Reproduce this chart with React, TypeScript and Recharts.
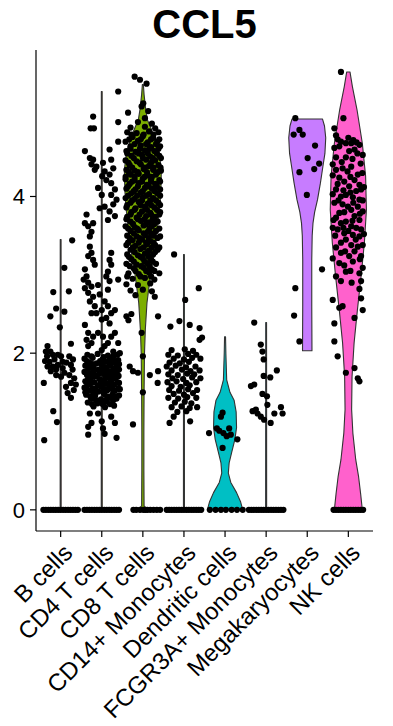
import React from 'react';
import { ComposedChart, Scatter, XAxis, YAxis } from 'recharts';

const cellTypes = [
  'B cells',
  'CD4 T cells',
  'CD8 T cells',
  'CD14+ Monocytes',
  'Dendritic cells',
  'FCGR3A+ Monocytes',
  'Megakaryocytes',
  'NK cells',
];
const violinColors = ['#F8766D', '#CD9600', '#7CAE00', '#00BE67', '#00BFC4', '#00A9FF', '#C77CFF', '#FF61CC'];
const yTicks = [0, 2, 4];

// violin outlines: expression level -> half width (in category units)
const bLevels = [0, 0.03, 3.45];
const bHalf = [0.3, 0.012, 0.01];
const cd4Levels = [0, 0.03, 5.34];
const cd4Half = [0.3, 0.012, 0.01];
const cd8Levels = [0, 0.05, 0.5, 1.0, 1.5, 2.0, 2.3, 2.64, 2.85, 3.07, 3.25, 3.49, 3.7, 3.92, 4.1, 4.34, 4.55, 4.77, 4.98, 5.11, 5.3, 5.43];
const cd8Half = [0.12, 0.03, 0.025, 0.025, 0.03, 0.04, 0.06, 0.1, 0.15, 0.21, 0.27, 0.33, 0.38, 0.42, 0.44, 0.45, 0.4, 0.28, 0.11, 0.07, 0.03, 0.012];
const cd14Levels = [0, 0.03, 3.26];
const cd14Half = [0.3, 0.012, 0.01];
const dcLevels = [0, 0.1, 0.22, 0.35, 0.47, 0.6, 0.73, 0.9, 1.05, 1.25, 1.4, 1.5, 1.66, 2.0, 2.21];
const dcHalf = [0.43, 0.38, 0.28, 0.14, 0.08, 0.1, 0.16, 0.24, 0.28, 0.27, 0.22, 0.12, 0.04, 0.02, 0.012];
const fcgLevels = [0, 0.03, 2.39];
const fcgHalf = [0.3, 0.012, 0.01];
const megaLevels = [2.03, 2.6, 3.2, 3.5, 3.66, 3.8, 3.96, 4.17, 4.38, 4.55, 4.75, 4.9, 4.99];
const megaHalf = [0.115, 0.11, 0.11, 0.12, 0.14, 0.18, 0.25, 0.32, 0.38, 0.43, 0.45, 0.42, 0.37];
const nkLevels = [0, 0.2, 0.42, 0.64, 0.98, 1.28, 1.7, 2.13, 2.55, 2.98, 3.41, 3.83, 4.26, 4.68, 5.11, 5.4, 5.59];
const nkHalf = [0.34, 0.3, 0.25, 0.18, 0.11, 0.08, 0.09, 0.14, 0.22, 0.31, 0.39, 0.44, 0.42, 0.34, 0.21, 0.1, 0.04];

// cells with zero expression: jitter offsets only
const bZeros = [-0.42, -0.36, -0.3, -0.24, -0.18, -0.12, -0.06, 0, 0.06, 0.12, 0.18, 0.24, 0.3, 0.36, 0.42];
const cd4Zeros = [-0.42, -0.36, -0.3, -0.24, -0.18, -0.12, -0.06, 0, 0.06, 0.12, 0.18, 0.24, 0.3, 0.36, 0.42];
const cd8Zeros = [-0.23, -0.16, -0.07, 0.01, 0.06, 0.11, 0.18, 0.26, 0.34, 0.42];
const cd14Zeros = [-0.42, -0.36, -0.3, -0.24, -0.18, -0.12, -0.06, 0, 0.06, 0.12, 0.18, 0.24, 0.3, 0.36, 0.42];
const dcZeros = [-0.37, -0.23, -0.1, 0.02, 0.16, 0.29, 0.43];
const fcgZeros = [-0.42, -0.36, -0.3, -0.24, -0.18, -0.12, -0.06, 0, 0.06, 0.12, 0.18, 0.24, 0.3, 0.36, 0.42];
const megaZeros: number[] = [];
const nkZeros = [-0.36, -0.3, -0.24, -0.18, -0.12, -0.06, 0, 0.06, 0.12, 0.18, 0.24, 0.3, 0.36];

// expressing cells: [jitter offset, expression]
const bPoints = [
  [0.28, 3.44], [0.09, 3.09], [-0.18, 2.78], [0.2, 2.79], [-0.11, 2.57], [-0.25, 2.47], [0.09, 2.53], [-0.02, 2.33], [0.25, 2.12],
  [-0.32, 2.09], [-0.36, 2.02], [-0.25, 2.02], [-0.33, 1.96], [-0.19, 1.98], [-0.07, 1.98], [-0.27, 1.89], [-0.15, 1.92], [0.01, 1.96],
  [0.05, 1.89], [-0.32, 1.83], [-0.19, 1.83], [-0.07, 1.85], [-0.11, 1.79], [0.05, 1.81], [0.21, 1.96], [0.25, 1.85], [0.29, 1.79],
  [0.09, 1.75], [0.21, 1.72], [0.33, 1.68], [0.25, 1.62], [0.37, 1.6], [0.13, 1.57], [0.32, 1.53], [0.17, 1.49], [0.25, 1.43],
  [0.01, 1.7], [-0.11, 1.72], [-0.24, 1.77], [0.14, 1.88], [-0.38, 1.9], [0.3, 1.92],
  [-0.41, 1.62], [-0.18, 1.26], [-0.09, 1.12], [-0.4, 0.89],
];
const cd4Points = [
  [0.4, 5.34], [-0.21, 5.02], [-0.27, 4.87], [-0.19, 4.87], [0.4, 4.95], [0.4, 4.7], [0.19, 4.6], [-0.41, 4.58],
  [-0.29, 4.49], [-0.21, 4.47], [-0.25, 4.41], [-0.13, 4.38], [-0.17, 4.34], [0.03, 4.43], [0.07, 4.32], [0.01, 4.26], [0.11, 4.21],
  [0.23, 4.47], [0.28, 4.36], [0.19, 4.28], [0.23, 4.17], [0.32, 4.09], [0.23, 4.02], [0.36, 3.96], [0.28, 3.9],
  [-0.09, 4.11], [0, 4.02], [0.07, 3.87], [-0.05, 3.85], [0.19, 3.81], [0.32, 3.75], [0.15, 3.7],
  [-0.37, 3.77], [-0.41, 3.66], [-0.33, 3.62], [-0.21, 3.66], [-0.25, 3.55], [-0.29, 3.49],
  [-0.29, 3.36], [-0.25, 3.28], [-0.33, 3.24], [-0.21, 3.19], [-0.17, 3.13],
  [0.23, 3.28], [0.19, 3.19], [0.23, 3.13], [0.15, 3.04], [0.11, 2.98],
  [-0.41, 3.07], [-0.37, 2.98], [-0.44, 2.94], [-0.33, 2.9], [-0.41, 2.83], [-0.25, 2.85], [-0.33, 2.77], [-0.21, 2.72], [-0.29, 2.66],
  [0.19, 2.92], [0.4, 2.94], [0.15, 2.81], [-0.09, 2.87], [-0.05, 2.75],
  [-0.17, 2.6], [-0.25, 2.51], [-0.13, 2.51], [0, 2.55], [0.07, 2.66], [0.15, 2.6], [0.23, 2.51], [0.32, 2.55], [0.11, 2.45], [0, 2.43], [0.19, 2.38],
  [-0.41, 2.36], [-0.33, 2.26], [-0.37, 2.17], [-0.25, 2.13], [-0.33, 2.09], [-0.21, 2.21],
  [-0.09, 2.26], [0.03, 2.21], [0.23, 2.21], [0.32, 2.26], [0.15, 2.13], [0.4, 2.13], [0.07, 2.09], [0, 2.04], [0.28, 2.02], [0.44, 2.0],
  [-0.35, 1.98], [-0.1, 1.99], [0.15, 1.97], [0.38, 1.98],
  [-0.42, 1.93], [-0.22, 1.94], [0.02, 1.92], [0.25, 1.93], [0.4, 1.91],
  [-0.3, 1.88], [-0.12, 1.87], [0.08, 1.89], [0.3, 1.88],
  [-0.4, 1.84], [-0.2, 1.83], [0, 1.85], [0.18, 1.84], [0.36, 1.83],
  [-0.33, 1.8], [-0.08, 1.79], [0.12, 1.81], [0.28, 1.8], [0.42, 1.79],
  [-0.42, 1.76], [-0.24, 1.75], [-0.02, 1.77], [0.2, 1.76], [0.34, 1.75],
  [-0.36, 1.72], [-0.14, 1.71], [0.06, 1.73], [0.26, 1.72], [0.41, 1.71],
  [-0.28, 1.68], [-0.06, 1.67], [0.14, 1.69], [0.32, 1.68],
  [-0.4, 1.64], [-0.18, 1.63], [0.04, 1.65], [0.22, 1.64], [0.38, 1.63],
  [-0.32, 1.6], [-0.1, 1.59], [0.1, 1.61], [0.3, 1.6],
  [-0.42, 1.56], [-0.22, 1.55], [0, 1.57], [0.18, 1.56], [0.4, 1.55],
  [-0.3, 1.52], [-0.08, 1.51], [0.14, 1.53], [0.32, 1.52],
  [-0.38, 1.47], [-0.16, 1.46], [0.06, 1.48], [0.26, 1.47], [0.42, 1.46],
  [-0.26, 1.42], [-0.02, 1.41], [0.2, 1.43], [0.36, 1.42],
  [-0.34, 1.37], [-0.1, 1.36], [0.12, 1.38],
  [-0.2, 1.32], [0.08, 1.31], [0.3, 1.33],
  [-0.25, 1.96], [0.05, 1.95], [0.28, 1.96],
  [-0.36, 1.9], [-0.04, 1.9], [0.18, 1.91], [0.34, 1.9],
  [-0.22, 1.86], [0.22, 1.86], [0.42, 1.86],
  [-0.28, 1.82], [0.08, 1.82],
  [-0.18, 1.78], [0.04, 1.78], [0.38, 1.78],
  [-0.3, 1.74], [-0.06, 1.74], [0.14, 1.74], [0.3, 1.74],
  [-0.22, 1.7], [0.2, 1.7], [0.36, 1.7],
  [-0.34, 1.66], [0.06, 1.66], [0.24, 1.66],
  [-0.26, 1.62], [-0.02, 1.62], [0.18, 1.62], [0.42, 1.62],
  [-0.36, 1.58], [-0.04, 1.58], [0.22, 1.58],
  [-0.16, 1.54], [0.08, 1.54], [0.26, 1.54], [0.44, 1.54],
  [-0.4, 1.5], [-0.2, 1.5], [0.04, 1.5],
  [-0.28, 1.45], [0.14, 1.45], [0.34, 1.45],
  [-0.14, 1.4], [0.08, 1.4], [0.28, 1.4],
  [-0.24, 1.35], [0.02, 1.35], [0.2, 1.35],
  [-0.29, 1.23], [-0.09, 1.23], [0.23, 1.19], [0, 1.13], [0.32, 1.11], [-0.33, 1.06], [0.03, 1.04], [-0.25, 1.11], [-0.33, 0.96], [0.07, 0.97], [0.36, 0.92],
];
const cd8Points = [
  [-0.2, 5.53], [-0.07, 5.49], [0.09, 5.44], [0.01, 5.19], [-0.03, 5.15], [0.13, 5.09], [-0.36, 5.07], [0.05, 5.0], [-0.12, 4.95], [0.22, 4.93],
  [-0.3, 4.88], [0.05, 4.89], [0.3, 4.87],
  [-0.38, 4.82], [-0.15, 4.81], [0.15, 4.83], [0.38, 4.82],
  [-0.25, 4.76], [0.0, 4.77], [0.25, 4.75],
  [-0.42, 4.7], [-0.12, 4.71], [0.12, 4.69], [0.35, 4.7],
  [-0.3, 4.64], [-0.05, 4.65], [0.2, 4.63], [0.42, 4.64],
  [-0.4, 4.58], [-0.18, 4.57], [0.05, 4.59], [0.28, 4.58],
  [-0.28, 4.52], [-0.02, 4.53], [0.18, 4.51], [0.4, 4.52],
  [-0.42, 4.46], [-0.15, 4.45], [0.08, 4.47], [0.3, 4.46],
  [-0.32, 4.4], [-0.05, 4.41], [0.15, 4.39], [0.38, 4.4],
  [-0.4, 4.34], [-0.2, 4.33], [0.02, 4.35], [0.25, 4.34], [0.44, 4.33],
  [-0.3, 4.28], [-0.1, 4.29], [0.12, 4.27], [0.32, 4.28],
  [-0.42, 4.22], [-0.2, 4.21], [0.0, 4.23], [0.2, 4.22], [0.4, 4.21],
  [-0.32, 4.16], [-0.1, 4.17], [0.1, 4.15], [0.3, 4.16],
  [-0.4, 4.1], [-0.18, 4.09], [0.05, 4.11], [0.22, 4.1], [0.42, 4.09],
  [-0.28, 4.04], [-0.05, 4.05], [0.15, 4.03], [0.35, 4.04],
  [-0.42, 3.98], [-0.2, 3.97], [0.0, 3.99], [0.25, 3.98],
  [-0.3, 3.92], [-0.1, 3.93], [0.12, 3.91], [0.38, 3.92],
  [-0.4, 3.86], [-0.18, 3.85], [0.05, 3.87], [0.28, 3.86],
  [-0.28, 3.8], [-0.02, 3.81], [0.18, 3.79], [0.42, 3.8],
  [-0.38, 3.74], [-0.15, 3.73], [0.08, 3.75], [0.3, 3.74],
  [-0.3, 3.68], [-0.05, 3.69], [0.15, 3.67], [0.36, 3.68],
  [-0.42, 3.62], [-0.2, 3.61], [0.02, 3.63], [0.22, 3.62],
  [-0.3, 3.56], [-0.1, 3.57], [0.12, 3.55], [0.32, 3.56],
  [-0.38, 3.5], [-0.15, 3.49], [0.05, 3.51], [0.26, 3.5], [0.42, 3.49],
  [-0.25, 3.44], [-0.02, 3.45], [0.18, 3.43],
  [-0.4, 3.38], [-0.18, 3.37], [0.1, 3.39], [0.3, 3.38],
  [-0.3, 3.32], [-0.06, 3.33], [0.15, 3.31], [0.36, 3.32],
  [-0.38, 3.26], [-0.12, 3.25], [0.05, 3.27], [0.25, 3.26],
  [-0.28, 3.2], [0.0, 3.21], [0.2, 3.19],
  [-0.4, 3.14], [-0.15, 3.13], [0.1, 3.15], [0.32, 3.14],
  [-0.22, 3.08], [0.02, 3.09], [0.22, 3.07],
  [-0.35, 3.02], [-0.1, 3.01], [0.15, 3.03], [0.4, 3.02],
  [-0.25, 2.95], [0.05, 2.96], [0.28, 2.94],
  [-0.4, 2.88], [-0.12, 2.87], [0.18, 2.89],
  [-0.3, 2.8], [0.0, 2.81], [0.22, 2.79],
  [-0.18, 2.74], [0.29, 2.72],
  [-0.28, 4.79], [0.02, 4.79], [0.26, 4.79],
  [-0.33, 4.73], [-0.05, 4.73], [0.2, 4.73], [0.4, 4.73],
  [-0.2, 4.67], [0.08, 4.67], [0.32, 4.67],
  [-0.3, 4.61], [-0.07, 4.61], [0.16, 4.61], [0.38, 4.61],
  [-0.38, 4.55], [-0.1, 4.55], [0.12, 4.55], [0.34, 4.55],
  [-0.22, 4.49], [0.0, 4.49], [0.24, 4.49], [0.44, 4.49],
  [-0.35, 4.43], [-0.08, 4.43], [0.2, 4.43],
  [-0.26, 4.37], [0.05, 4.37], [0.26, 4.37], [0.43, 4.37],
  [-0.34, 4.31], [-0.12, 4.31], [0.1, 4.31], [0.36, 4.31],
  [-0.42, 4.25], [-0.2, 4.25], [0.04, 4.25], [0.22, 4.25],
  [-0.26, 4.19], [-0.02, 4.19], [0.2, 4.19], [0.42, 4.19],
  [-0.36, 4.13], [-0.12, 4.13], [0.14, 4.13], [0.34, 4.13],
  [-0.22, 4.07], [0.0, 4.07], [0.28, 4.07],
  [-0.36, 4.01], [-0.14, 4.01], [0.08, 4.01], [0.42, 4.01],
  [-0.26, 3.95], [-0.02, 3.95], [0.18, 3.95], [0.32, 3.95],
  [-0.38, 3.89], [-0.06, 3.89], [0.2, 3.89], [0.42, 3.89],
  [-0.2, 3.83], [0.1, 3.83], [0.34, 3.83],
  [-0.3, 3.77], [-0.08, 3.77], [0.2, 3.77], [0.4, 3.77],
  [-0.4, 3.71], [-0.12, 3.71], [0.04, 3.71], [0.24, 3.71],
  [-0.24, 3.65], [0.08, 3.65], [0.28, 3.65],
  [-0.36, 3.59], [-0.14, 3.59], [0.16, 3.59], [0.4, 3.59],
  [-0.22, 3.53], [0.02, 3.53], [0.2, 3.53],
  [-0.32, 3.47], [-0.08, 3.47], [0.14, 3.47], [0.36, 3.47],
  [-0.36, 3.41], [-0.1, 3.41], [0.08, 3.41], [0.26, 3.41],
  [-0.24, 3.35], [0.02, 3.35], [0.22, 3.35], [0.4, 3.35],
  [-0.2, 3.29], [0.12, 3.29], [0.3, 3.29],
  [-0.34, 3.23], [-0.06, 3.23], [0.14, 3.23],
  [-0.22, 3.17], [0.04, 3.17], [0.24, 3.17],
  [-0.32, 3.11], [-0.04, 3.11], [0.16, 3.11],
  [-0.18, 3.05], [0.08, 3.05], [0.28, 3.05],
  [-0.38, 2.98], [-0.06, 2.98], [0.2, 2.98],
  [0.37, 2.47], [-0.4, 2.47], [-0.35, 2.42], [-0.28, 2.5], [-0.03, 2.26], [0, 1.96], [-0.32, 1.83], [-0.24, 1.77],
  [-0.12, 1.75], [0.17, 1.72], [0.37, 1.77], [0.36, 1.62], [0, 1.5], [-0.24, 1.09],
];
const cd14Points = [
  [-0.24, 3.26], [0.36, 2.83], [0.03, 2.68], [-0.11, 2.41], [0.14, 2.36], [-0.33, 2.34], [0.38, 2.32], [0.38, 2.17], [0.44, 2.2],
  [-0.3, 2.04], [0.02, 2.05], [0.22, 2.03],
  [-0.38, 1.98], [-0.15, 1.97], [0.1, 1.99], [0.3, 1.98],
  [-0.25, 1.93], [0.0, 1.92], [0.2, 1.94], [0.4, 1.93],
  [-0.35, 1.88], [-0.1, 1.87], [0.12, 1.89],
  [-0.42, 1.83], [-0.2, 1.84], [0.05, 1.82], [0.28, 1.83],
  [-0.3, 1.78], [-0.05, 1.79], [0.16, 1.77], [0.38, 1.78],
  [-0.38, 1.73], [-0.15, 1.72], [0.08, 1.74], [0.25, 1.73],
  [-0.28, 1.68], [-0.02, 1.67], [0.2, 1.69], [0.4, 1.68],
  [-0.4, 1.63], [-0.18, 1.64], [0.06, 1.62], [0.3, 1.63],
  [-0.3, 1.58], [-0.08, 1.57], [0.14, 1.59],
  [-0.36, 1.53], [-0.12, 1.52], [0.1, 1.54], [0.32, 1.53],
  [-0.25, 1.48], [0.0, 1.47], [0.22, 1.49],
  [-0.38, 1.43], [-0.14, 1.42], [0.08, 1.44], [0.3, 1.43],
  [-0.22, 1.37], [0.02, 1.38], [0.18, 1.36],
  [-0.3, 1.31], [-0.06, 1.32], [0.14, 1.3], [0.32, 1.31],
  [-0.16, 1.25], [0.06, 1.26],
  [-0.35, 1.11], [0.15, 1.13], [-0.25, 1.19],
];
const dcPoints = [
  [-0.06, 1.24], [-0.1, 1.19], [-0.2, 1.04], [-0.39, 0.98], [-0.14, 1.01], [-0.04, 0.98], [0.1, 1.04], [0.04, 0.94], [0.14, 0.96], [0.3, 0.9], [-0.06, 0.79],
];
const fcgPoints = [
  [-0.29, 2.39], [-0.13, 2.11], [-0.09, 2.02], [-0.06, 1.92], [0.26, 1.78], [-0.06, 1.71], [0.1, 1.69], [-0.37, 1.58], [-0.29, 1.6],
  [-0.09, 1.48], [0.02, 1.45], [0.03, 1.34], [-0.25, 1.28], [-0.21, 1.23], [-0.13, 1.19], [-0.05, 1.15], [0.11, 1.11], [0.36, 1.31],
  [0.4, 1.23], [0.2, 1.23], [-0.33, 1.26],
];
const megaPoints = [
  [-0.29, 5.0], [-0.33, 4.79], [-0.19, 4.85], [-0.11, 4.79], [0.19, 4.65], [0.01, 4.49], [0.29, 4.42], [0.17, 4.35], [-0.19, 4.31],
  [-0.01, 4.02], [0.36, 3.07], [-0.29, 2.83], [-0.32, 2.48], [-0.19, 2.15],
];
const nkPoints = [
  [-0.18, 5.59], [-0.12, 5.0], [-0.34, 4.87],
  [-0.26, 4.73], [-0.18, 4.7], [-0.06, 4.68], [0.07, 4.68], [0.2, 4.69], [0.27, 4.66], [-0.34, 4.62], [0.15, 4.6], [0.35, 4.53], [-0.06, 4.5],
  [-0.38, 4.41], [-0.3, 4.34], [-0.14, 4.36], [0.07, 4.38], [0.23, 4.28], [-0.22, 4.24], [-0.1, 4.19], [0.15, 4.21], [0.27, 4.15],
  [-0.3, 4.09], [0.02, 4.13], [0.19, 4.07], [0.31, 4.09], [-0.06, 4.02], [-0.18, 4.0], [0.11, 3.99], [0.27, 3.96], [-0.34, 3.92],
  [-0.14, 3.9], [-0.01, 3.87], [0.23, 3.87], [0.07, 3.83], [0.35, 3.81], [-0.22, 3.79], [0.15, 3.75], [-0.3, 3.73], [-0.06, 3.68],
  [0.27, 3.7], [-0.18, 3.66], [0.07, 3.62], [0.19, 3.6], [0.31, 3.58], [-0.38, 3.6], [-0.26, 3.58], [-0.1, 3.53], [0.11, 3.51],
  [0.27, 3.49], [-0.06, 3.45], [-0.18, 3.41], [0.07, 3.38], [0.23, 3.36], [0.35, 3.38],
  [-0.38, 3.21], [-0.18, 3.28], [0.02, 3.24], [0.31, 3.24], [0.11, 3.17], [0.35, 3.09], [-0.22, 3.15], [-0.06, 3.04], [0.27, 3.02],
  [-0.18, 2.92], [0.31, 2.92], [0.27, 2.82], [0.31, 2.7], [-0.38, 2.68], [-0.14, 2.6], [-0.22, 2.58], [-0.34, 2.38], [0.15, 2.45],
  [-0.34, 2.15], [-0.26, 1.96], [-0.06, 1.75], [0.15, 1.81], [0.23, 1.68], [0.27, 1.64],
  [-0.3, 4.78], [0.0, 4.75], [0.12, 4.72], [-0.22, 4.64], [0.02, 4.58], [0.22, 4.55], [-0.3, 4.5], [0.1, 4.48], [-0.16, 4.44],
  [0.3, 4.42], [-0.02, 4.32], [0.34, 4.3], [-0.38, 4.27], [0.05, 4.25], [-0.26, 4.16], [0.38, 4.12], [-0.12, 4.08], [0.05, 4.05],
  [-0.38, 4.03], [0.35, 3.95], [-0.24, 3.95], [0.12, 3.92], [-0.1, 3.8], [0.28, 3.78], [-0.36, 3.7], [0.1, 3.69], [-0.12, 3.6],
  [0.0, 3.56], [0.38, 3.52], [-0.32, 3.5], [0.18, 3.45], [-0.3, 3.35], [-0.08, 3.3], [0.15, 3.3], [0.28, 3.2], [-0.1, 3.12],
  [0.05, 3.05], [-0.3, 2.98], [0.08, 2.9], [0.35, 2.55],
];

const groups = [
  { levels: bLevels, half: bHalf, zeros: bZeros, points: bPoints },
  { levels: cd4Levels, half: cd4Half, zeros: cd4Zeros, points: cd4Points },
  { levels: cd8Levels, half: cd8Half, zeros: cd8Zeros, points: cd8Points },
  { levels: cd14Levels, half: cd14Half, zeros: cd14Zeros, points: cd14Points },
  { levels: dcLevels, half: dcHalf, zeros: dcZeros, points: dcPoints },
  { levels: fcgLevels, half: fcgHalf, zeros: fcgZeros, points: fcgPoints },
  { levels: megaLevels, half: megaHalf, zeros: megaZeros, points: megaPoints },
  { levels: nkLevels, half: nkHalf, zeros: nkZeros, points: nkPoints },
];

const FONT = '"Liberation Sans", Arial, Helvetica, sans-serif';

const outline = (i: number, levels: number[], half: number[]) => {
  const c = i + 1;
  const right = levels.map((y, k) => ({ x: c + half[k], y }));
  const left = levels.map((y, k) => ({ x: c - half[k], y })).reverse();
  return [...right, ...left];
};

const cellDots = (i: number, zeros: number[], points: number[][]) => [
  ...zeros.map((dx) => ({ x: i + 1 + dx, y: 0 })),
  ...points.map(([dx, y]) => ({ x: i + 1 + dx, y })),
];

const violinPath = (fill: string) => (props: any) => {
  const pts = props.points || [];
  if (!pts.length) return <g />;
  const d = pts.map((p: any, k: number) => `${k ? 'L' : 'M'}${p.x},${p.y}`).join(' ') + ' Z';
  return <path d={d} fill={fill} stroke="#333333" strokeWidth={1.1} strokeLinejoin="round" />;
};

const noMark = () => <g />;
const dot = (p: any) => <circle cx={p.cx} cy={p.cy} r={3.1} fill="#000000" />;

const XTick = ({ x, y, payload }: any) => (
  <g transform={`translate(${x + 1},${y + 2})`}>
    <text transform="rotate(-45)" textAnchor="end" dy="0.72em" fontSize={24} fontFamily={FONT} fill="#000000">
      {cellTypes[payload.value - 1]}
    </text>
  </g>
);

export default function App() {
  return (
    <div style={{ position: 'absolute', left: 0, top: 0, width: 393, height: 726, background: '#fff' }}>
      <div
        style={{
          position: 'absolute',
          left: 36,
          width: 337,
          top: 4,
          textAlign: 'center',
          fontFamily: FONT,
          fontWeight: 'bold',
          fontSize: 40,
          lineHeight: 1,
          color: '#000',
        }}
      >
        CCL5
      </div>
      <ComposedChart width={393} height={726} margin={{ top: 50, right: 20, bottom: 15, left: 0 }}>
        <XAxis
          type="number"
          dataKey="x"
          domain={[0.4, 8.6]}
          ticks={[1, 2, 3, 4, 5, 6, 7, 8]}
          interval={0}
          allowDataOverflow
          height={180}
          axisLine={{ stroke: '#000', strokeWidth: 1.2 }}
          tickLine={{ stroke: '#000', strokeWidth: 1.2 }}
          tickSize={6}
          tickMargin={3}
          tick={<XTick />}
        />
        <YAxis
          type="number"
          dataKey="y"
          domain={[-0.27, 5.87]}
          ticks={yTicks}
          allowDataOverflow
          width={36}
          axisLine={{ stroke: '#000', strokeWidth: 1.2 }}
          tickLine={{ stroke: '#000', strokeWidth: 1.2 }}
          tickSize={6}
          tickMargin={5}
          tick={{ fontSize: 22, fontFamily: FONT, fill: '#000' }}
        />
        {groups.map((g, i) => (
          <Scatter
            key={`v${i}`}
            data={outline(i, g.levels, g.half)}
            line={violinPath(violinColors[i])}
            shape={noMark}
            isAnimationActive={false}
          />
        ))}
        {groups.map((g, i) => (
          <Scatter
            key={`p${i}`}
            data={cellDots(i, g.zeros, g.points)}
            shape={dot}
            isAnimationActive={false}
          />
        ))}
      </ComposedChart>
    </div>
  );
}
